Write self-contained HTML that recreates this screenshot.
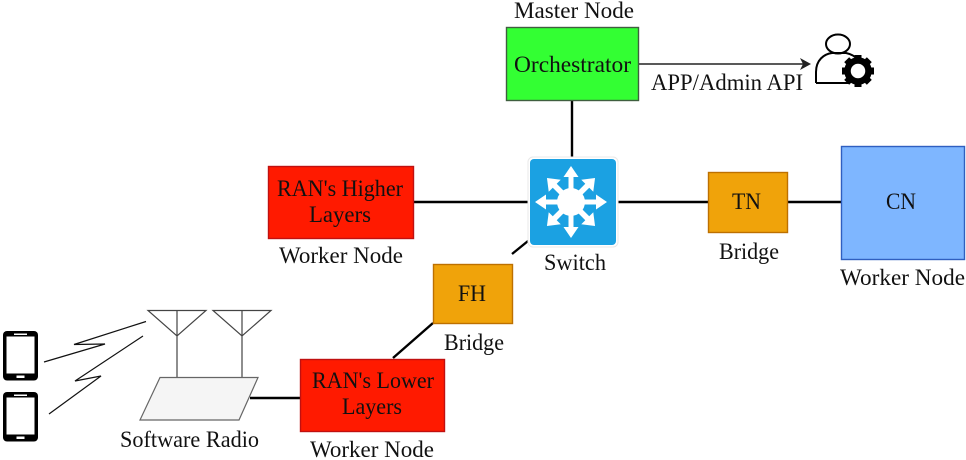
<!DOCTYPE html>
<html><head><meta charset="utf-8"><style>
html,body{margin:0;padding:0;background:#fff;width:966px;height:460px;overflow:hidden}
svg{display:block;filter:blur(.35px)}
text{font-family:"Liberation Serif",serif;font-size:23px;fill:#111}
</style></head><body>
<svg width="966" height="460" viewBox="0 0 966 460" xmlns="http://www.w3.org/2000/svg">
<!-- connectors -->
<g stroke="#000" stroke-width="2.4" fill="none">
<path d="M572 100V158M413 202H530M618 202H708M787 202H841M528 241L512 254M433 323L393 358M250 398H300"/>
</g>
<path d="M638 64H803" stroke="#222" stroke-width="1.5"/>
<path d="M811 64L800 58L803 64L800 70Z" fill="#222"/>
<!-- boxes -->
<g stroke-width="1.4">
<rect x="506.500" y="27.500" width="132" height="73" fill="#33ff33" stroke="#3f5f3f"/>
<rect x="268.500" y="166.500" width="145" height="72" fill="#ff1a00" stroke="#c01010"/>
<rect x="300.500" y="359.500" width="144" height="72" fill="#ff1a00" stroke="#c01010"/>
<rect x="708.500" y="172.500" width="79" height="60" fill="#f0a30a" stroke="#bd7000"/>
<rect x="433.500" y="264.500" width="79" height="59" fill="#f0a30a" stroke="#bd7000"/>
<rect x="841.500" y="146.500" width="123" height="113" fill="#7eb6ff" stroke="#2f5fc0"/>
</g>
<!-- switch -->
<rect x="528" y="157" width="90" height="90" rx="5" fill="#fff" stroke="#e8e8e8"/>
<rect x="530" y="159" width="86" height="86" rx="4" fill="#1ba1e2"/>
<g fill="#fff" transform="translate(571 202)">
<circle r="14"/>
<g><path id="n" d="M-2.500 -10V-25H-7.500L0 -36L7.500 -25H2.500V-10Z"/>
<use href="#n" transform="rotate(90)"/><use href="#n" transform="rotate(180)"/><use href="#n" transform="rotate(270)"/></g>
<g transform="rotate(45)"><path d="M-2.800 -10V-23H-8.500L0 -34L8.500 -23H2.800V-10Z" id="d"/>
<use href="#d" transform="rotate(90)"/><use href="#d" transform="rotate(180)"/><use href="#d" transform="rotate(270)"/></g>
</g>
<!-- user and gear -->
<ellipse cx="838" cy="44" rx="12" ry="9.500" fill="#fff" stroke="#000" stroke-width="2"/>
<path d="M816 83V72C816 60 824 54 832 53H846C851 54 855 56 858 60M816 83H850" fill="none" stroke="#000" stroke-width="2"/>
<g transform="translate(858 71)">
<circle r="10.500" fill="#fff" stroke="#000" stroke-width="6.500"/>
<g fill="#000"><rect id="t" x="-3.500" y="-16" width="7" height="5"/>
<use href="#t" transform="rotate(45)"/><use href="#t" transform="rotate(90)"/><use href="#t" transform="rotate(135)"/><use href="#t" transform="rotate(180)"/><use href="#t" transform="rotate(225)"/><use href="#t" transform="rotate(270)"/><use href="#t" transform="rotate(315)"/></g>
</g>
<!-- phones -->
<g id="ph">
<rect x="3" y="331" width="35" height="49.500" rx="4" fill="#000"/>
<rect x="6.500" y="336.500" width="28" height="37" fill="#fff"/>
<rect x="14" y="333.500" width="13" height="1.500" fill="#fff"/>
<rect x="16.500" y="375.500" width="8" height="2.500" fill="#fff"/>
</g>
<use href="#ph" y="61"/>
<!-- lightning -->
<g fill="none" stroke="#111" stroke-width="1.200">
<path d="M44 362L105 344L74 344.500L146 321.500"/>
<path d="M49 414L101 376L75 381L143 336"/>
</g>
<!-- antennas -->
<g fill="none" stroke="#444" stroke-width="1.200">
<path d="M148 310.500H206L177 336ZM177 310.500V377"/>
<path d="M213 310.500H271L242 336ZM242 310.500V377"/>
<path d="M160 377.500H258L239 420H140Z" fill="#f5f5f5" stroke="#666"/>
</g>
<!-- labels -->
<text x="514" y="18" textLength="120" lengthAdjust="spacingAndGlyphs">Master Node</text>
<text x="514" y="72" textLength="117" lengthAdjust="spacingAndGlyphs">Orchestrator</text>
<text x="651" y="90" textLength="152" lengthAdjust="spacingAndGlyphs">APP/Admin API</text>
<text x="277" y="196" textLength="126" lengthAdjust="spacingAndGlyphs">RAN's Higher</text>
<text x="309" y="222" textLength="62" lengthAdjust="spacingAndGlyphs">Layers</text>
<text x="279" y="263" textLength="124" lengthAdjust="spacingAndGlyphs">Worker Node</text>
<text x="544" y="270" textLength="62" lengthAdjust="spacingAndGlyphs">Switch</text>
<text x="732" y="209" textLength="29" lengthAdjust="spacingAndGlyphs">TN</text>
<text x="719" y="259" textLength="60" lengthAdjust="spacingAndGlyphs">Bridge</text>
<text x="886" y="209" textLength="30" lengthAdjust="spacingAndGlyphs">CN</text>
<text x="840" y="285" textLength="125" lengthAdjust="spacingAndGlyphs">Worker Node</text>
<text x="458" y="301" textLength="28" lengthAdjust="spacingAndGlyphs">FH</text>
<text x="444" y="350" textLength="60" lengthAdjust="spacingAndGlyphs">Bridge</text>
<text x="312" y="388" textLength="122" lengthAdjust="spacingAndGlyphs">RAN's Lower</text>
<text x="342" y="414" textLength="60" lengthAdjust="spacingAndGlyphs">Layers</text>
<text x="120" y="447" textLength="139" lengthAdjust="spacingAndGlyphs">Software Radio</text>
<text x="310" y="457" textLength="124" lengthAdjust="spacingAndGlyphs">Worker Node</text>
</svg>
</body></html>
